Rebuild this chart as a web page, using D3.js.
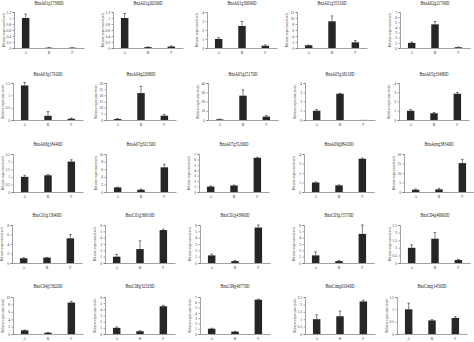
<!DOCTYPE html>
<html><head><meta charset="utf-8">
<script src="https://cdn.jsdelivr.net/npm/d3@7"></script>
<style>html,body{margin:0;padding:0;background:#fff;}svg{display:block;}</style>
</head><body>
<script>
const genes = [
 "BnaA01g17380D","BnaA01g20290D","BnaA01g30090D","BnaA01g35310D","BnaA02g21790D",
 "BnaA03g17920D","BnaA04g22080D","BnaA05g25170D","BnaA05g18210D","BnaA05g33480D",
 "BnaA06g18440D","BnaA07g32150D","BnaA07g35260D","BnaA09g08420D","BnaAnng38340D",
 "BnaC01g13040D","BnaC01g36610D","BnaC01g43960D","BnaC03g15570D","BnaC04g49060D",
 "BnaC04g53020D","BnaC06g32320D","BnaC09g46770D","BnaCnng01040D","BnaCnng14500D"
];
const categories = ["A","B","F"];
const meanValues = [
 [1.0,0.01,0.01],[1.0,0.03,0.05],[1.0,2.45,0.25],[0.9,8.9,1.9],[1.0,4.6,0.15],
 [1.4,0.17,0.05],[0.8,21.8,3.5],[0.7,26.3,3.7],[1.0,2.84,0.01],[1.0,0.73,2.84],
 [1.0,1.1,2.0],[1.2,0.6,6.5],[1.0,1.2,6.3],[1.0,0.7,3.5],[1.2,1.4,15.2],
 [1.0,1.13,5.2],[1.0,2.2,5.2],[1.2,0.3,5.6],[1.2,0.3,4.6],[1.0,1.6,0.2],
 [1.0,0.35,8.5],[1.0,0.45,4.5],[1.0,0.45,6.5],[1.0,1.2,2.2],[1.0,0.55,0.65]
];
const errorValues = [
 [0.13,0.005,0.005],[0.15,0.01,0.02],[0.15,0.5,0.1],[0.1,1.8,0.6],[0.15,0.55,0.05],
 [0.12,0.17,0.03],[0.5,5.5,1.0],[0.3,6.3,1.1],[0.15,0.05,0],[0.15,0.08,0.15],
 [0.1,0.05,0.12],[0.1,0.15,0.8],[0.1,0.08,0.1],[0.05,0.05,0.08],[0.4,0.6,2.0],
 [0.1,0.05,0.8],[0.35,1.3,0.15],[0.2,0.1,0.4],[0.55,0.1,1.4],[0.2,0.4,0.05],
 [0.1,0.05,0.3],[0.15,0.08,0.15],[0.1,0.05,0.1],[0.3,0.35,0.08],[0.25,0.03,0.05]
];
const axisMax = [1.2,1.2,4,12,7, 1.5,30,40,4,4, 2.5,10,7,4,20, 8,6,6,6,2.5, 10,6,7,2.5,1.5];
const axisStep = [0.2,0.2,1,2,1, 0.5,5,10,1,1, 0.5,2,1,1,5, 2,1,1,1,0.5, 2,1,1,0.5,0.5];
const yTitle = "Relative expression levels";

// layout
const W = 474, H = 342;
const rowTop = [12, 83, 154, 225, 297];
const rowBase = [48, 120, 192, 263, 334];
const rowTitleY = [4.5, 76, 146, 217, 288];
const axisX = [
 [14,113,207,297,400],
 [13,106,208,305,399],
 [13,106,199,304,404],
 [12,105,200,304,400],
 [13,105,200,305,397]
];
const plotW = 70;

const svg = d3.select("body").append("svg").attr("width", W).attr("height", H);

genes.forEach((g, i) => {
  const r = Math.floor(i / 5), c = i % 5;
  const x0 = axisX[r][c];
  const gp = svg.append("g").attr("transform", `translate(${x0},0)`);
  const x = d3.scaleBand().domain(categories).range([0, plotW]).paddingInner(0.68).paddingOuter(0.34);
  const y = d3.scaleLinear().domain([0, axisMax[i]]).range([rowBase[r], rowTop[r]]);
  const ticks = d3.range(0, axisMax[i] + axisStep[i] / 2, axisStep[i]);

  const ya = d3.axisLeft(y).tickValues(ticks).tickSize(1.5).tickPadding(1.5)
    .tickFormat(v => String(+v.toFixed(2)));
  const yg = gp.append("g").call(ya);
  yg.select(".domain").attr("stroke", "#444").attr("stroke-width", 0.5);
  yg.selectAll(".tick line").attr("stroke", "#444").attr("stroke-width", 0.5);
  yg.selectAll(".tick text").attr("font-size", 3.6).attr("fill", "#333")
    .attr("font-family", "Liberation Serif");

  const xa = d3.axisBottom(x).tickSize(0).tickPadding(3.5);
  const xg = gp.append("g").attr("transform", `translate(0,${rowBase[r]})`).call(xa);
  xg.select(".domain").attr("stroke", "#444").attr("stroke-width", 0.5);
  xg.selectAll(".tick text").attr("font-size", 3.8).attr("fill", "#333")
    .attr("font-family", "Liberation Serif");

  const data = categories.map((k, j) => ({k, v: meanValues[i][j], e: errorValues[i][j]}));
  gp.selectAll("rect.bar").data(data).enter().append("rect")
    .attr("x", d => x(d.k)).attr("width", x.bandwidth())
    .attr("y", d => y(d.v)).attr("height", d => rowBase[r] - y(d.v))
    .attr("fill", "#262626");
  const eb = gp.selectAll("g.err").data(data.filter(d => d.e > 0)).enter().append("g");
  eb.append("line")
    .attr("x1", d => x(d.k) + x.bandwidth() / 2).attr("x2", d => x(d.k) + x.bandwidth() / 2)
    .attr("y1", d => y(d.v)).attr("y2", d => y(d.v + d.e))
    .attr("stroke", "#262626").attr("stroke-width", 0.6);
  eb.append("line")
    .attr("x1", d => x(d.k) + x.bandwidth() / 2 - 1.3).attr("x2", d => x(d.k) + x.bandwidth() / 2 + 1.3)
    .attr("y1", d => y(d.v + d.e)).attr("y2", d => y(d.v + d.e))
    .attr("stroke", "#262626").attr("stroke-width", 0.6);

  const midY = (rowTop[r] + rowBase[r]) / 2;
  gp.append("text").attr("transform", `translate(-9.5,${midY}) rotate(-90)`)
    .attr("text-anchor", "middle").attr("font-size", 3.4).attr("fill", "#444")
    .attr("font-family", "Liberation Serif")
    .attr("textLength", 34).attr("lengthAdjust", "spacingAndGlyphs")
    .text(yTitle);

  gp.append("text").attr("x", plotW / 2).attr("y", rowTitleY[r])
    .attr("text-anchor", "middle").attr("font-size", 5.6).attr("fill", "#222")
    .attr("font-family", "Liberation Serif")
    .attr("textLength", 29).attr("lengthAdjust", "spacingAndGlyphs")
    .text(g);
});
</script>
</body></html>
